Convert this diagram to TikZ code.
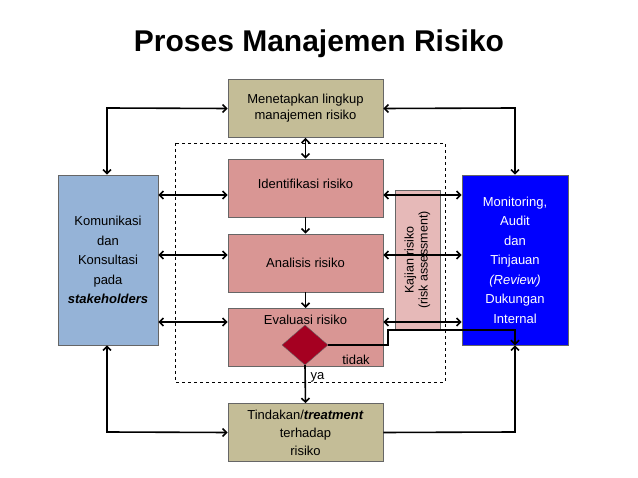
\documentclass[tikz,border=0pt]{standalone}
\usepackage{fontspec}
\setmainfont{Liberation Sans}
\usetikzlibrary{shapes.geometric,arrows.meta}
\definecolor{tan}{HTML}{C4BD97}
\definecolor{pinkb}{HTML}{D99694}
\definecolor{pinkl}{HTML}{E6B9B8}
\definecolor{lblue}{HTML}{95B3D7}
\definecolor{dred}{HTML}{A50021}
\begin{document}
\begin{tikzpicture}[x=1pt,y=-1pt,
  box/.style={draw=black!60,line width=0.6pt,minimum width=155pt,minimum height=58pt,align=center,font=\fontsize{13}{16}\selectfont,inner sep=2pt},
  ar/.style={line width=1.6pt,-{Straight Barb[length=4pt,width=8pt]}},
  dar/.style={line width=1.6pt,{Straight Barb[length=4pt,width=8pt]}-{Straight Barb[length=4pt,width=8pt]}},
  lbl/.style={font=\fontsize{13}{15}\selectfont}]
\useasboundingbox (0,0) rectangle (638,478);
\fill[white] (0,0) rectangle (638,478);
\node[font=\fontsize{30}{32}\selectfont\bfseries] (title) at (319,44) {Proses Manajemen Risiko};
\draw[dashed,line width=0.4pt] (175,143) rectangle (445,382);
\node[box,fill=tan] (men) at (305.5,108.5) {Menetapkan lingkup\\manajemen risiko};
\node[box,fill=pinkb] (ide) at (305.5,188) {\raisebox{8pt}{Identifikasi risiko}};
\node[box,fill=pinkb] (ana) at (305.5,263) {Analisis risiko};
\node[box,fill=pinkb,anchor=north] (eva) at (305.5,308) {};
\node[lbl] (evat) at (305.5,320) {Evaluasi risiko};
\node[box,fill=tan,font=\fontsize{13}{18}\selectfont] (tin) at (305.5,432.5) {Tindakan/\textit{\textbf{treatment}}\\terhadap\\risiko};
\node[draw=black!60,line width=0.6pt,fill=pinkl,minimum width=45pt,minimum height=140pt,inner sep=0pt] (kaj) at (417.5,260) {};
\node[lbl,rotate=90,align=center,font=\fontsize{12.5}{14}\selectfont] (kajt) at (417.5,260) {Kajian risiko\\(risk assessment)};
\node[draw=black!60,line width=0.6pt,fill=lblue,minimum width=100pt,minimum height=170pt,align=center,font=\fontsize{13}{19.5}\selectfont] (kom) at (108,260) {Komunikasi\\dan\\Konsultasi\\pada\\\textit{\textbf{stakeholders}}};
\node[draw=black!60,line width=0.6pt,fill=blue,text=white,minimum width=106pt,minimum height=170pt,align=center,font=\fontsize{13}{19.5}\selectfont] (mon) at (515,260) {Monitoring,\\Audit\\dan\\Tinjauan\\\textit{(Review)}\\Dukungan\\Internal};
\node[diamond,fill=dred,draw=black!60,minimum width=46pt,minimum height=40pt,inner sep=0pt] (dia) at (305,345) {};
\node[lbl] (tidak) at (356,360) {tidak};
\node[lbl,anchor=west] (ya) at (307,377) {ya};
\coordinate (tl) at (107,108);
\coordinate (tr) at (515,108);
\coordinate (bl) at (107,432);
\coordinate (br) at (515,432);
\draw[dar] (men.west) -- (tl) -- (kom.north -| tl);
\draw[dar] (men.east) -- (tr) -- (mon.north -| tr);
\draw[dar] (men.south) -- (ide.north);
\draw[dar] (tin.west) -- (bl) -- (kom.south -| bl);
\draw[ar] (tin.east) -- (br) -- (mon.south -| br);
\draw[ar] (ide.south) -- (ana.north);
\draw[ar] (ana.south) -- (eva.north);
\draw[ar] (dia.south) -- (tin.north);
\draw[dar] (kom.east |- 0,195) -- (ide.west |- 0,195);
\draw[dar] (kom.east |- 0,255) -- (ana.west |- 0,255);
\draw[dar] (kom.east |- 0,322) -- (eva.west |- 0,322);
\draw[dar] (ide.east |- 0,195) -- (mon.west |- 0,195);
\draw[dar] (ana.east |- 0,255) -- (mon.west |- 0,255);
\draw[dar] (eva.east |- 0,322) -- (mon.west |- 0,322);
\coordinate (c1) at (388,345);
\coordinate (c2) at (388,330);
\draw[ar] (dia.east) -- (c1) -- (c2) -- (c2 -| br) -- (mon.south -| br);
\end{tikzpicture}
\end{document}
